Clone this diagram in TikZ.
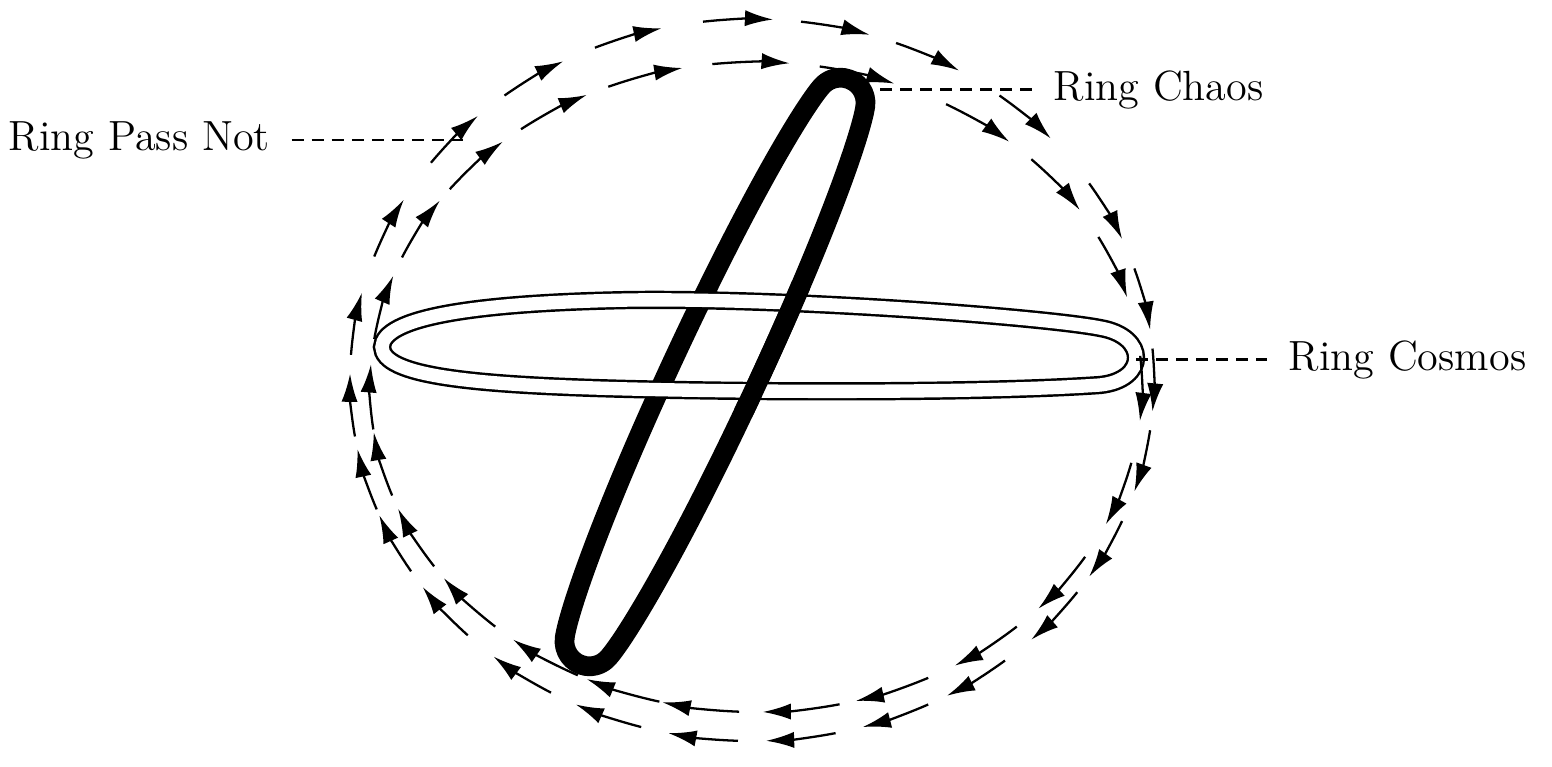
\documentclass[tikz,border=0pt]{standalone}
\usetikzlibrary{arrows.meta}
\tikzset{>={Latex[length=8pt,width=4.6pt]}}
\tikzset{
  flow/.style={->, line width=0.65pt},
  chaos/.style={line width=5.6pt, line join=round},
  cosmos/.style={double, line width=0.7pt, double distance=3.8pt},
  leader/.style={line width=0.6pt, dash pattern=on 3.4pt off 2.3pt},
  ringname/.style={inner sep=6pt, font=\fontsize{12}{14}\selectfont}
}
\newcommand{\chaospath}{(0,43) .. controls (170,43) and (277,32) .. (304,24) arc[start angle=74, end angle=-74, radius=25] .. controls (277,-32) and (170,-43) .. (0,-43) .. controls (-170,-43) and (-277,-32) .. (-304,-24) arc[start angle=254, end angle=106, radius=25] .. controls (-277,32) and (-170,43) .. (0,43) -- cycle}
\newcommand{\ringarrows}[5]{
  \foreach \a in {#5}
    \draw[flow] ([shift={(\a-#4:#2 and #3)}]#1) arc[start angle=\a-#4, end angle=\a, x radius=#2, y radius=#3];
}

\begin{document}
\begin{tikzpicture}[x=0.01cm, y=-0.01cm]
    \useasboundingbox (0,0) rectangle (1552,766);
    \begin{scope}[shift={(715,372)}, rotate=65]
        \draw[chaos] \chaospath;
    \end{scope}
    \draw[cosmos] (382,347) .. controls (383,318) and (470,303) .. (630,300) .. controls (800,298) and (1050,318) .. (1100,328) .. controls (1148,336) and (1148,380) .. (1100,385) .. controls (1000,392) and (800,393) .. (630,389) .. controls (470,385) and (383,376) .. cycle;
    \begin{scope}[shift={(715,372)}, rotate=65]
        \clip (-25,15) rectangle (115,70);
        \draw[chaos] \chaospath;
    \end{scope}
    \ringarrows{752,380}{402}{361}{10}{-8,5,18,33,46,61,74,88,102,116,130,145,158,169,181,194,210,227,242,257,273,287,301,318,337}
    \ringarrows{756,387}{386}{325}{11.5}{6,25,43,59,75,89,104,116,129,144,158,172,184,200,215,229,244,259,275,291,311,327,344}
    \node[ringname, anchor=base west] (pass) at (-13,150) {Ring Pass Not};
    \node[ringname, anchor=base west] (chaosname) at (1032,100) {Ring Chaos};
    \node[ringname, anchor=base west] (cosmosname) at (1267,370) {Ring Cosmos};
    \coordinate (pn) at (463,143);
    \coordinate (ch) at (880,90);
    \coordinate (co) at (1136,358);
    \draw[leader] (pass.east) -- (pass.east -| pn);
    \draw[leader] (ch |- chaosname.west) -- (chaosname.west);
    \draw[leader] (co |- cosmosname.west) -- (cosmosname.west);
\end{tikzpicture}
\end{document}
